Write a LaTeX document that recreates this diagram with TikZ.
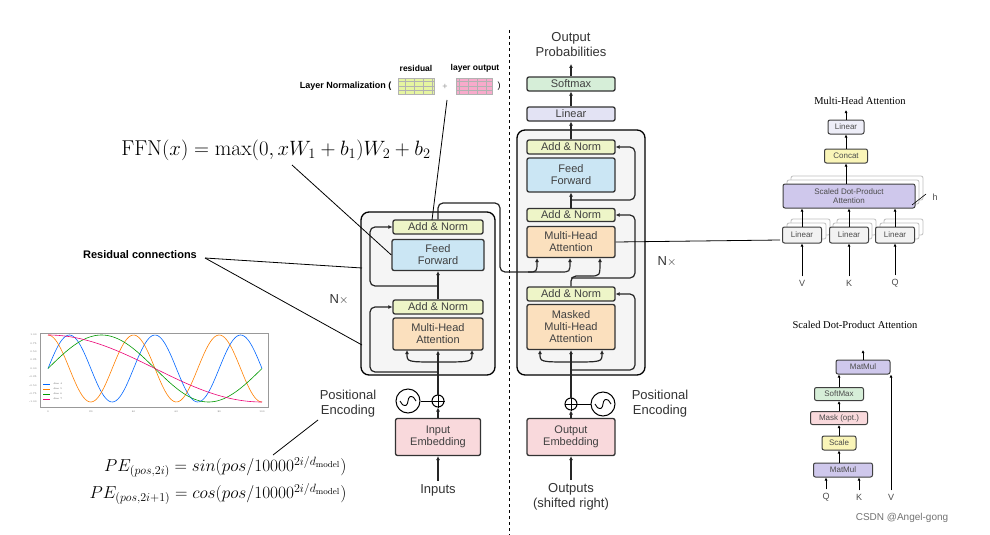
\documentclass[tikz,border=0pt]{standalone}
\usepackage{fontspec}
\setsansfont{Liberation Sans}
\newfontfamily\serifx{Liberation Serif}
\usetikzlibrary{arrows.meta}
\definecolor{an}{HTML}{EEF5C8}
\definecolor{ff}{HTML}{CBE6F4}
\definecolor{mh}{HTML}{FBE0BE}
\definecolor{em}{HTML}{F9D9DC}
\definecolor{li}{HTML}{E3E3F4}
\definecolor{sm}{HTML}{D6EED8}
\definecolor{pu}{HTML}{CFC8EC}
\definecolor{ye}{HTML}{FAF5B8}
\definecolor{gy}{HTML}{E6F5A0}
\definecolor{pk}{HTML}{F8AACB}
\begin{document}
\begin{tikzpicture}[x=1pt,y=-1pt,font=\sffamily,
  bx/.style={draw=black!80,line width=1.3pt,rounded corners=2pt,inner sep=0pt,align=center,font=\sffamily\fontsize{11}{12}\selectfont\color{black!75}},
  sb/.style={draw=black!75,line width=1pt,rounded corners=2pt,inner sep=0pt,align=center,font=\sffamily\fontsize{8}{9}\selectfont\color{black!70}},
  ar/.style={-{Latex[length=4pt,width=4pt]},line width=1.2pt,black!85,rounded corners=5pt},
  ln/.style={line width=0.8pt,black},
  txt/.style={font=\sffamily\fontsize{13}{15}\selectfont\color{black!80},align=center}]
\useasboundingbox (0,0) rectangle (990,535);
\fill[white] (0,0) rectangle (990,535);
% dashed divider
\draw[dashed,line width=0.7pt] (509,30) -- (509,535);
% outer boxes
\draw[line width=1.3pt,rounded corners=8pt,fill=black!4] (361,212) rectangle (495,375);
\draw[line width=1.3pt,rounded corners=8pt,fill=black!4] (517,130) rectangle (645,375);
% encoder
\node[bx,fill=an,minimum width=90pt,minimum height=14pt] (ean2) at (438,227) {Add \& Norm};
\node[bx,fill=ff,minimum width=92pt,minimum height=31pt] (eff) at (438,255) {Feed\\Forward};
\node[bx,fill=an,minimum width=90pt,minimum height=14pt] (ean1) at (438,307) {Add \& Norm};
\node[bx,fill=mh,minimum width=90pt,minimum height=32pt] (emh) at (438,334) {Multi-Head\\Attention};
\node[bx,fill=em,minimum width=85pt,minimum height=37pt] (eemb) at (438,437) {Input\\Embedding};
\node[circle,draw,line width=1pt,minimum size=12pt,inner sep=0pt] (eplus) at (438,401) {};
\draw[line width=1pt] (eplus.north)--(eplus.south) (eplus.west)--(eplus.east);
\node[circle,draw,line width=1pt,minimum size=24pt,inner sep=0pt] (esin) at (408,401) {};
\draw[line width=0.9pt] ([xshift=-8pt]esin.center) .. controls ([xshift=-3pt,yshift=-9pt]esin.center) and ([xshift=0pt,yshift=-3pt]esin.center) .. (esin.center) .. controls ([xshift=0pt,yshift=3pt]esin.center) and ([xshift=3pt,yshift=9pt]esin.center) .. ([xshift=8pt]esin.center);
\draw[line width=1pt] (esin.east)--(eplus.west);
\node[txt] (einp) at (438,490) {Inputs};
\draw[ar] (einp.north) -- (eemb.south);
\draw[ar] (eemb.north) -- (eplus.south);
\draw[ar] (eplus.north) -- (emh.south);
\draw[ar] (438,362) .. controls (407,362) .. (407,350);
\draw[ar] (438,362) .. controls (472,362) .. (472,350);
\draw[ar] (ean1.north) -- (eff.south);
\draw[ar] (438,372) -- (370,372) -- (370,307) -- (ean1.west);
\draw[ar] (438,286) -- (370,286) -- (370,227) -- (ean2.west);
\node[txt] (epe) at (348,404) {Positional\\Encoding};
\node[txt] (enx) at (339,300) {N$\times$};
% encoder output to decoder
\draw[line width=1.2pt,black!85,rounded corners=5pt] (ean2.north) -- (438,203) -- (500,203) -- (500,272) -- (560,272);
\draw[ar] (528,272) .. controls (537,272) .. (537,258);
\draw[ar] (560,272) .. controls (570,272) .. (570,258);
% decoder
\node[bx,fill=sm,minimum width=88pt,minimum height=14pt] (dsm) at (571,84) {Softmax};
\node[bx,fill=li,minimum width=88pt,minimum height=14pt] (dli) at (571,114) {Linear};
\node[bx,fill=an,minimum width=88pt,minimum height=14pt] (dan3) at (571,147) {Add \& Norm};
\node[bx,fill=ff,minimum width=88pt,minimum height=34pt] (dff) at (571,175) {Feed\\Forward};
\node[bx,fill=an,minimum width=88pt,minimum height=13pt] (dan2) at (571,215) {Add \& Norm};
\node[bx,fill=mh,minimum width=88pt,minimum height=31pt] (dmh) at (571,242) {Multi-Head\\Attention};
\node[bx,fill=an,minimum width=88pt,minimum height=14pt] (dan1) at (571,294) {Add \& Norm};
\node[bx,fill=mh,minimum width=88pt,minimum height=45pt] (dmm) at (571,327) {Masked\\Multi-Head\\Attention};
\node[bx,fill=em,minimum width=88pt,minimum height=37pt] (demb) at (571,437) {Output\\Embedding};
\node[circle,draw,line width=1pt,minimum size=12pt,inner sep=0pt] (dplus) at (571,404) {};
\draw[line width=1pt] (dplus.north)--(dplus.south) (dplus.west)--(dplus.east);
\node[circle,draw,line width=1pt,minimum size=24pt,inner sep=0pt] (dsin) at (603,404) {};
\draw[line width=0.9pt] ([xshift=-8pt]dsin.center) .. controls ([xshift=-3pt,yshift=-9pt]dsin.center) and ([xshift=0pt,yshift=-3pt]dsin.center) .. (dsin.center) .. controls ([xshift=0pt,yshift=3pt]dsin.center) and ([xshift=3pt,yshift=9pt]dsin.center) .. ([xshift=8pt]dsin.center);
\draw[line width=1pt] (dsin.west)--(dplus.east);
\node[txt] (dout) at (571,497) {Outputs\\(shifted right)};
\node[txt] (dprob) at (571,45) {Output\\Probabilities};
\node[txt] (dpe) at (660,404) {Positional\\Encoding};
\node[txt] (dnx) at (667,262) {N$\times$};
\draw[ar] (dout.north) -- (demb.south);
\draw[ar] (demb.north) -- (dplus.south);
\draw[ar] (dplus.north) -- (dmm.south);
\draw[ar] (571,362) .. controls (540,362) .. (540,350);
\draw[ar] (571,362) .. controls (602,362) .. (602,350);
\draw[ar] (571,370) -- (635,370) -- (635,294) -- (dan1.east);
\draw[line width=1.2pt,black!85,rounded corners=5pt] (dan1.north) -- (571,276) -- (590,276);
\draw[ar] (590,276) .. controls (600,276) .. (600,258);
\draw[ar] (571,278) -- (635,278) -- (635,215) -- (dan2.east);
\draw[ar] (dan2.north) -- (dff.south);
\draw[ar] (571,200) -- (635,200) -- (635,147) -- (dan3.east);
\draw[ar] (dan3.north) -- (dli.south);
\draw[ar] (dli.north) -- (dsm.south);
\draw[ar] (dsm.north) -- (571,64);
% annotations
\node[font=\fontsize{21.5}{24}\selectfont] (ffn) at (276,150) {$\mathrm{FFN}(x)=\max(0,xW_1+b_1)W_2+b_2$};
\draw[ln] (292,165) -- (eff.west);
\node[font=\sffamily\bfseries\fontsize{9}{10}\selectfont,anchor=east] (lnorm) at (395,86) {Layer Normalization (};
\foreach \c/\xx in {gy/398,pk/456}{
  \fill[\c] (\xx,78) rectangle ++(36,16);
  \draw[black!30,line width=0.5pt] (\xx,78) grid[step=9pt] ++(36,16) (\xx,86)--++(36,0);
  \draw[black!30] (\xx,78) rectangle ++(36,16);}
\node[font=\sffamily\fontsize{9}{10}\selectfont,black!40] (lplus) at (445,87) {+};
\node[font=\sffamily\fontsize{9}{10}\selectfont] (lpar) at (499,86) {)};
\node[font=\sffamily\bfseries\fontsize{8.5}{10}\selectfont] (lres) at (416,68) {residual};
\node[font=\sffamily\bfseries\fontsize{8.5}{10}\selectfont] (lout) at (475,68) {layer output};
\draw[ln] (447,100) -- (432,220);
\node[font=\sffamily\bfseries\fontsize{11}{13}\selectfont] (resc) at (140,255) {Residual connections};
\draw[ln] (205,258) -- (362,268);
\draw[ln] (205,258) -- (362,345);
\node[font=\fontsize{17.5}{20}\selectfont,anchor=east] (pe1) at (350,467) {$PE_{(pos,2i)}=sin(pos/10000^{2i/d_{\mathrm{model}}})$};
\node[font=\fontsize{17.5}{20}\selectfont,anchor=east] (pe2) at (350,494) {$PE_{(pos,2i+1)}=cos(pos/10000^{2i/d_{\mathrm{model}}})$};
\draw[ln] (273,455) -- (318,420);
% sine plot
\draw[black!40,line width=0.4pt] (40,333) rectangle (268,407);
\foreach \v/\t in {335/1.00,343.4/0.75,351.8/0.50,360.1/0.25,368.5/0.00,376.9/-0.25,385.2/-0.50,393.6/-0.75,402/-1.00}
  \node[font=\fontsize{2.5}{3}\selectfont,black!60,anchor=east] at (40,\v) {\t};
\foreach \v/\t in {0/0,20/20,40/40,60/60,80/80,100/100}
  \node[font=\fontsize{2.5}{3}\selectfont,black!60] at ({48+2.14*\v},412) {\t};
\draw[blue!60!cyan,line width=0.6pt] plot[domain=0:100,samples=120] ({48+2.14*\x},{368.5-33.5*sin(9*\x)});
\draw[orange,line width=0.6pt] plot[domain=0:100,samples=120] ({48+2.14*\x},{368.5-33.5*cos(9*\x)});
\draw[green!60!black,line width=0.6pt] plot[domain=0:100,samples=80] ({48+2.14*\x},{368.5-33.5*sin(3.6*\x)});
\draw[magenta!80!red,line width=0.6pt] plot[domain=0:100,samples=80] ({48+2.14*\x},{368.5-33.5*cos(1.8*\x)});
\foreach \c/\t/\yy in {blue!60!cyan/dim 4/384,orange/dim 5/389,green!60!black/dim 6/394,magenta!80!red/dim 7/399}{
  \draw[\c,line width=0.6pt] (43,\yy)--(50,\yy); \node[font=\fontsize{2.5}{3}\selectfont,anchor=west,black!60] at (50,\yy) {\t};}
% right: multi-head attention
\node[font=\serifx\fontsize{10.5}{12}\selectfont] (mtitle) at (860,101) {Multi-Head Attention};
\node[sb,fill=li!60,minimum width=36pt,minimum height=14pt] (mlin) at (846,127) {Linear};
\node[sb,fill=ye,minimum width=43pt,minimum height=14pt] (mcat) at (846,156) {Concat};
\foreach \o in {8,4}{
  \draw[black!25,line width=0.8pt,fill=white,rounded corners=2pt] (783+\o,184-\o) rectangle (915+\o,208-\o);
  \foreach \xx in {783,829,876}
    \draw[black!25,line width=0.8pt,fill=white,rounded corners=2pt] (\xx+\o,227-\o) rectangle (\xx+39+\o,243-\o);}
\node[sb,fill=pu,minimum width=132pt,minimum height=24pt] (msdp) at (849,196) {Scaled Dot-Product\\Attention};
\node[sb,fill=black!5,minimum width=39pt,minimum height=16pt] (ml1) at (802,235) {Linear};
\node[sb,fill=black!5,minimum width=39pt,minimum height=16pt] (ml2) at (849,235) {Linear};
\node[sb,fill=black!5,minimum width=39pt,minimum height=16pt] (ml3) at (895,235) {Linear};
\node[font=\sffamily\fontsize{9}{10}\selectfont,black!70] (mv) at (802,283) {V};
\node[font=\sffamily\fontsize{9}{10}\selectfont,black!70] (mk) at (849,283) {K};
\node[font=\sffamily\fontsize{9}{10}\selectfont,black!70] (mq) at (895,283) {Q};
\node[font=\sffamily\fontsize{9}{10}\selectfont,black!70] (mh) at (935,197) {h};
\draw[line width=0.6pt] (912,205) -- (926,194);
\tikzset{sa/.style={-{Latex[length=3pt,width=3pt]},line width=0.9pt}}
\draw[sa] (mv.north) -- (ml1.south);
\draw[sa] (mk.north) -- (ml2.south);
\draw[sa] (mq.north) -- (ml3.south);
\draw[sa] (ml1.north) -- (msdp.south -| ml1.north);
\draw[sa] (ml2.north) -- (msdp.south -| ml2.north);
\draw[sa] (ml3.north) -- (msdp.south -| ml3.north);
\draw[sa] (msdp.north -| mcat.south) -- (mcat.south);
\draw[sa] (mcat.north) -- (mlin.south);
\draw[sa] (mlin.north) -- (846,110);
\draw[line width=0.8pt] (dmh.east) -- (780,240);
% right: scaled dot product attention
\node[font=\serifx\fontsize{10.5}{12}\selectfont] (stitle) at (855,325) {Scaled Dot-Product Attention};
\node[sb,fill=pu,minimum width=54pt,minimum height=14pt] (smm2) at (863,367) {MatMul};
\node[sb,fill=sm,minimum width=49pt,minimum height=13pt] (ssm) at (839,394) {SoftMax};
\node[sb,fill=em,minimum width=57pt,minimum height=13pt] (smask) at (839,418) {Mask (opt.)};
\node[sb,fill=ye,minimum width=34pt,minimum height=14pt] (ssc) at (839,443) {Scale};
\node[sb,fill=pu,minimum width=59pt,minimum height=14pt] (smm1) at (843,470) {MatMul};
\node[font=\sffamily\fontsize{9}{10}\selectfont,black!70] (sq) at (826,497) {Q};
\node[font=\sffamily\fontsize{9}{10}\selectfont,black!70] (sk) at (859,497) {K};
\node[font=\sffamily\fontsize{9}{10}\selectfont,black!70] (sv) at (891,497) {V};
\draw[sa] (sq.north) -- (smm1.south -| sq.north);
\draw[sa] (sk.north) -- (smm1.south -| sk.north);
\draw[sa] (sv.north) -- (smm2.south -| sv.north);
\draw[sa] (smm1.north -| ssc.south) -- (ssc.south);
\draw[sa] (ssc.north) -- (smask.south);
\draw[sa] (smask.north) -- (ssm.south);
\draw[sa] (ssm.north) -- (smm2.south -| ssm.north);
\draw[sa] (smm2.north) -- (863,350);
\node[font=\sffamily\fontsize{10}{12}\selectfont,black!55] (csdn) at (902,518) {CSDN @Angel-gong};
\end{tikzpicture}
\end{document}
